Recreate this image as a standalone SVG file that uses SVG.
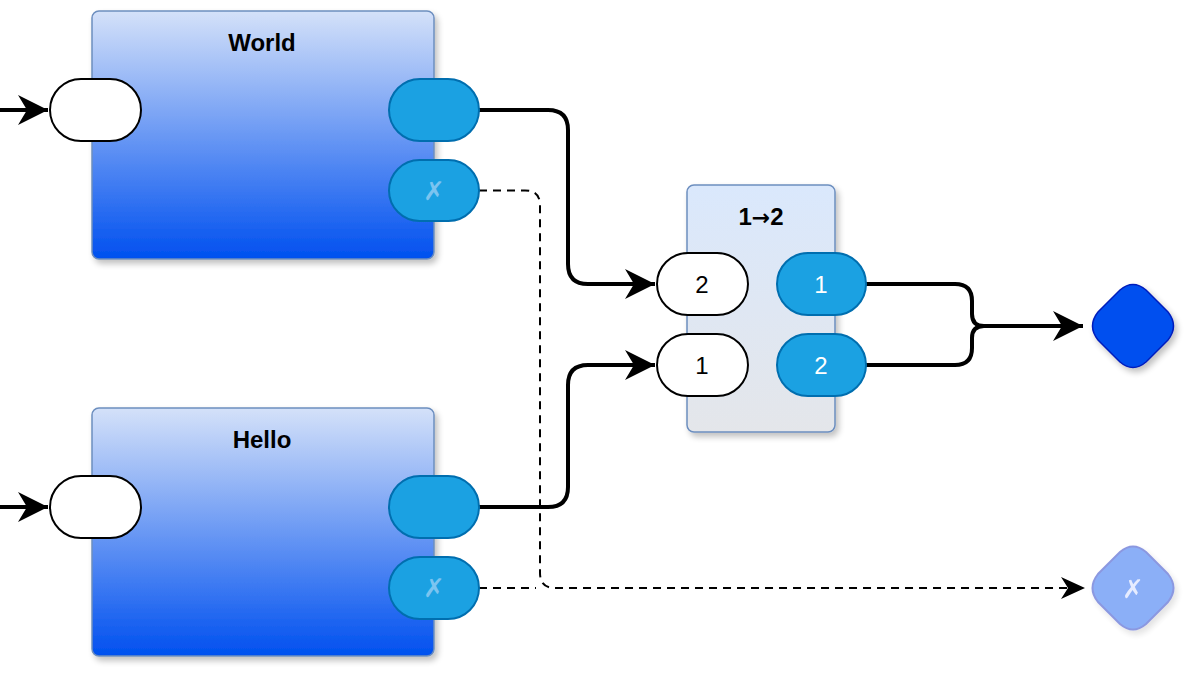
<svg xmlns="http://www.w3.org/2000/svg" width="1200" height="675" viewBox="0 0 1200 675">
<defs>
  <linearGradient id="gBlue" x1="0" y1="0" x2="0" y2="1">
    <stop offset="0" stop-color="#d4e1f9"/>
    <stop offset="1" stop-color="#0050ef"/>
  </linearGradient>
  <linearGradient id="gMid" x1="0" y1="0" x2="0" y2="1">
    <stop offset="0" stop-color="#dae8fc"/>
    <stop offset="1" stop-color="#e4e6ea"/>
  </linearGradient>
  <filter id="sh" x="-20%" y="-20%" width="140%" height="140%">
    <feGaussianBlur in="SourceAlpha" stdDeviation="3"/>
    <feOffset dx="3" dy="4"/>
    <feComponentTransfer><feFuncA type="linear" slope="0.25"/></feComponentTransfer>
    <feMerge><feMergeNode/><feMergeNode in="SourceGraphic"/></feMerge>
  </filter>
  <marker id="arr" viewBox="0 0 24 22" refX="24" refY="11" markerWidth="24" markerHeight="22" markerUnits="userSpaceOnUse" orient="auto">
    <path d="M0,0 L24,11 L0,22 L7,11 Z" fill="#000"/>
  </marker>
  <marker id="arrBig" viewBox="0 0 30 30" refX="30" refY="15" markerWidth="30" markerHeight="30" markerUnits="userSpaceOnUse" orient="auto">
    <path d="M0,0 L30,15 L0,30 L9,15 Z" fill="#000"/>
  </marker>
</defs>
<style>
  .box { stroke: #6c8ebf; stroke-width: 1.5; }
  .title { font-family: "Liberation Sans", Arial, sans-serif; font-weight: bold; font-size: 24px; text-anchor: middle; fill: #000; }
  .inPill { fill: #fff; stroke: #000; stroke-width: 2; }
  .outPill { fill: #1ba1e2; stroke: #006eaf; stroke-width: 2; }
  .lbl { font-family: "Liberation Sans", Arial, sans-serif; font-size: 24px; text-anchor: middle; dominant-baseline: central; }
  .x { font-family: "DejaVu Sans", sans-serif; font-size: 26px; text-anchor: middle; dominant-baseline: central; fill: #7cc4f0; font-style: italic; }
  .solid { fill: none; stroke: #000; stroke-width: 4; }
  .dash { fill: none; stroke: #000; stroke-width: 2; stroke-dasharray: 8 6; }
</style>

<g id="connectors">
  <path class="solid" d="M0,110 L48,110" marker-end="url(#arrBig)"/>
  <path class="solid" d="M0,507 L48,507" marker-end="url(#arrBig)"/>
  <path class="solid" d="M479,110 L548,110 Q568,110 568,130 L568,264 Q568,284 588,284 L655,284" marker-end="url(#arrBig)"/>
  <path class="solid" d="M479,507 L548,507 Q568,507 568,487 L568,385 Q568,365 588,365 L655,365" marker-end="url(#arrBig)"/>
  <path class="dash" d="M479,190.5 L525,190.5 Q540,190.5 540,205 L540,573 Q540,588 555,588 L1085,588" marker-end="url(#arr)"/>
  <path class="dash" d="M479,588 L536,588"/>
  <path class="solid" d="M866,284 L955,284 Q972,284 972,301 L972,314 Q972,326 984,326 L1083,326" marker-end="url(#arrBig)"/>
  <path class="solid" d="M866,365 L955,365 Q972,365 972,348 L972,338 Q972,326 984,326"/>
</g>

<g id="world">
  <rect class="box" x="92" y="11" width="342" height="248" rx="7" fill="url(#gBlue)" filter="url(#sh)"/>
  <text class="title" x="262" y="51">World</text>
  <rect class="inPill" x="50" y="79" width="91" height="62" rx="31"/>
  <rect class="outPill" x="389" y="79" width="90" height="62" rx="31"/>
  <rect class="outPill" x="389" y="160" width="90" height="61" rx="30.5"/>
  <text class="x" x="434" y="191">✗</text>
</g>

<g id="hello">
  <rect class="box" x="92" y="408" width="342" height="248" rx="7" fill="url(#gBlue)" filter="url(#sh)"/>
  <text class="title" x="262" y="448">Hello</text>
  <rect class="inPill" x="50" y="476" width="91" height="62" rx="31"/>
  <rect class="outPill" x="389" y="476" width="90" height="62" rx="31"/>
  <rect class="outPill" x="389" y="557" width="90" height="62" rx="31"/>
  <text class="x" x="434" y="588">✗</text>
</g>

<g id="swap">
  <rect class="box" x="687" y="185" width="148" height="247" rx="7" fill="url(#gMid)" filter="url(#sh)"/>
  <text class="title" x="761" y="225">1<tspan font-family="DejaVu Sans, sans-serif" font-size="22">→</tspan>2</text>
  <rect class="inPill" x="657" y="253" width="91" height="62" rx="31"/>
  <text class="lbl" x="702" y="284" fill="#000">2</text>
  <rect class="inPill" x="657" y="334" width="91" height="62" rx="31"/>
  <text class="lbl" x="702" y="365" fill="#000">1</text>
  <rect class="outPill" x="777" y="253" width="89" height="62" rx="31"/>
  <text class="lbl" x="821" y="284" fill="#fff">1</text>
  <rect class="outPill" x="777" y="334" width="89" height="62" rx="31"/>
  <text class="lbl" x="821" y="365" fill="#fff">2</text>
</g>

<g id="out-ok">
  <path d="M1120,290 Q1133,279 1146,290 L1168,312 Q1179,326 1168,340 L1146,362 Q1133,373 1120,362 L1098,340 Q1087,326 1098,312 Z" fill="#0050ef" stroke="#001dbc" stroke-width="1.5" filter="url(#sh)"/>
</g>

<g id="out-err" opacity="0.45">
  <path d="M1120,552 Q1133,541 1146,552 L1168,574 Q1179,588 1168,602 L1146,624 Q1133,635 1120,624 L1098,602 Q1087,588 1098,574 Z" fill="#0050ef" stroke="#001dbc" stroke-width="2" filter="url(#sh)"/>
  <text class="x" x="1133" y="589" style="fill:#c8d6ff">✗</text>
</g>
</svg>
